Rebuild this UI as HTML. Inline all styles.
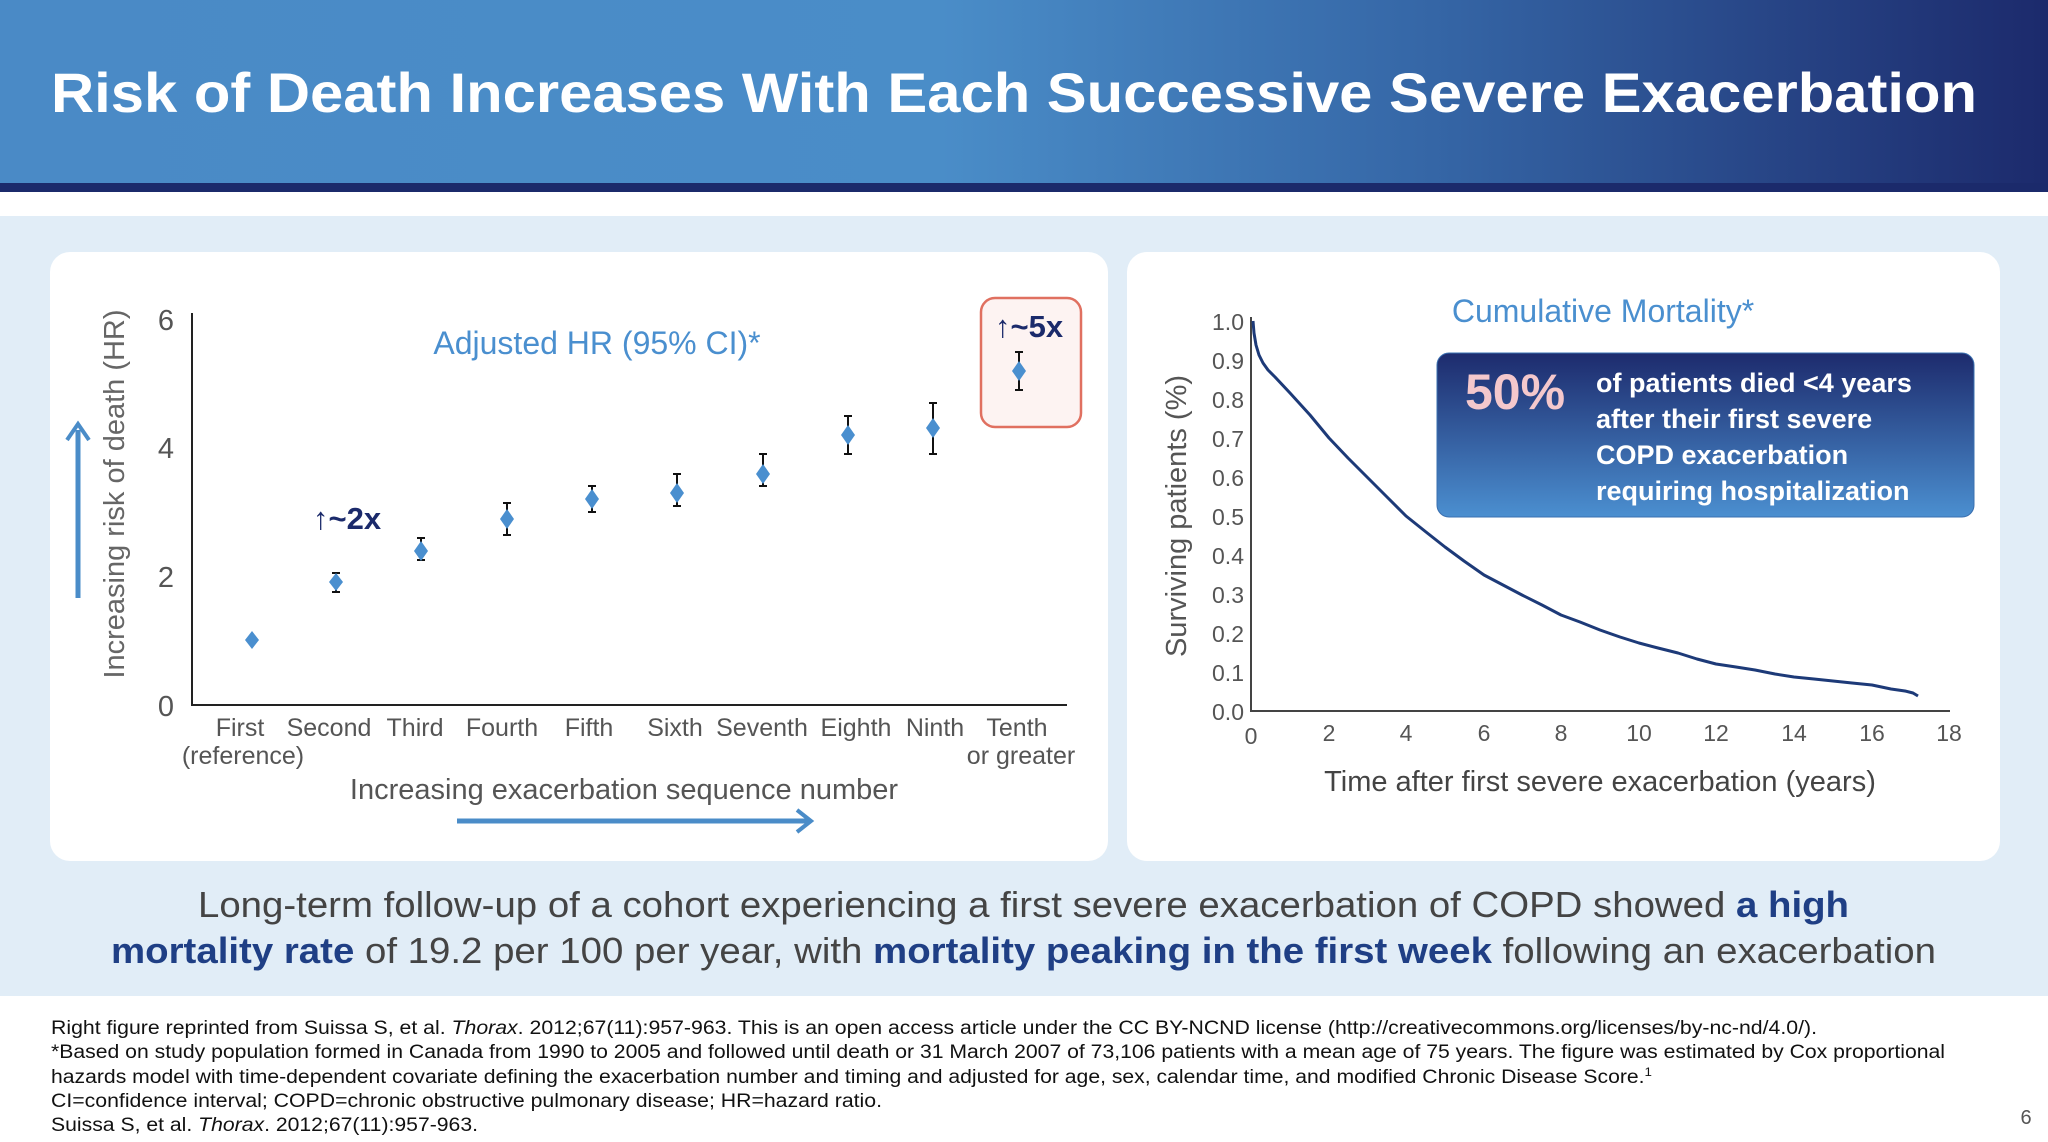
<!DOCTYPE html>
<html><head><meta charset="utf-8"><style>html,body{margin:0;padding:0;background:#fff}svg{display:block}text{font-family:"Liberation Sans",Arial,sans-serif}</style></head>
<body>
<svg width="2048" height="1142" viewBox="0 0 2048 1142" xmlns="http://www.w3.org/2000/svg">
<defs>
<linearGradient id="hd" x1="0" x2="1" y1="0" y2="0">
<stop offset="0" stop-color="#4a8ac6"/><stop offset="0.46" stop-color="#4a8dc8"/><stop offset="0.7" stop-color="#3566a6"/><stop offset="1" stop-color="#1c2a6c"/></linearGradient>
<linearGradient id="bx" x1="0" x2="0" y1="0" y2="1">
<stop offset="0" stop-color="#1d2b6d"/><stop offset="1" stop-color="#4b8fd0"/></linearGradient>
</defs>
<rect x="0" y="0" width="2048" height="1142" fill="#fff"/>
<rect x="0" y="0" width="2048" height="183" fill="url(#hd)"/>
<rect x="0" y="183" width="2048" height="9" fill="#1b2a6b"/>
<text x="51" y="112" font-size="56" font-weight="bold" fill="#fff" textLength="1926" lengthAdjust="spacingAndGlyphs">Risk of Death Increases With Each Successive Severe Exacerbation</text>
<rect x="0" y="216" width="2048" height="780" fill="#e1edf7"/>
<rect x="50" y="252" width="1058" height="609" rx="20" fill="#fff"/>
<rect x="1127" y="252" width="873" height="609" rx="20" fill="#fff"/>

<!-- left chart -->
<line x1="192" y1="313" x2="192" y2="706" stroke="#222" stroke-width="2"/>
<line x1="191" y1="705" x2="1067" y2="705" stroke="#222" stroke-width="2"/>
<g font-size="29" fill="#555" text-anchor="middle">
<text x="166" y="330">6</text><text x="166" y="458">4</text><text x="166" y="587">2</text><text x="166" y="716">0</text>
</g>
<text transform="translate(124,494) rotate(-90)" font-size="29" fill="#666" text-anchor="middle">Increasing risk of death (HR)</text>
<line x1="78" y1="598" x2="78" y2="430" stroke="#4a8cc8" stroke-width="5"/>
<polyline points="67,440 78,424 89,440" fill="none" stroke="#4a8cc8" stroke-width="4"/>
<text x="597" y="354" font-size="32" fill="#4a8fcf" text-anchor="middle">Adjusted HR (95% CI)*</text>
<rect x="981" y="298" width="100" height="129" rx="14" fill="#fdf3f2" stroke="#e07060" stroke-width="2.5"/>
<text x="995" y="337" font-size="31" font-weight="bold" fill="#1b2a6b">↑~5x</text>
<text x="313" y="529" font-size="31" font-weight="bold" fill="#1b2a6b">↑~2x</text>
<g stroke="#111" stroke-width="2">
<path d="M336,592 v-19 M332,592h8 M332,573h8"/>
<path d="M421,560 v-22 M417,560h8 M417,538h8"/>
<path d="M507,535 v-32 M503,535h8 M503,503h8"/>
<path d="M592,512 v-26 M588,512h8 M588,486h8"/>
<path d="M677,506 v-32 M673,506h8 M673,474h8"/>
<path d="M763,486 v-32 M759,486h8 M759,454h8"/>
<path d="M848,454 v-38 M844,454h8 M844,416h8"/>
<path d="M933,454 v-51 M929,454h8 M929,403h8"/>
<path d="M1019,390 v-38 M1015,390h8 M1015,352h8"/>
</g>
<g fill="#4a8fcf">
<path d="M252,631 l7,9 l-7,9 l-7,-9z"/>
<path d="M336,573 l7,9 l-7,9 l-7,-9z"/>
<path d="M421,541 l7,10 l-7,10 l-7,-10z"/>
<path d="M507,509 l7,10 l-7,10 l-7,-10z"/>
<path d="M592,489 l7,10 l-7,10 l-7,-10z"/>
<path d="M677,483 l7,10 l-7,10 l-7,-10z"/>
<path d="M763,464 l7,10 l-7,10 l-7,-10z"/>
<path d="M848,425 l7,10 l-7,10 l-7,-10z"/>
<path d="M933,418 l7,10 l-7,10 l-7,-10z"/>
<path d="M1019,361 l7,10 l-7,10 l-7,-10z"/>
</g>
<g font-size="25" fill="#555" text-anchor="middle">
<text x="240" y="736">First</text><text x="243" y="764">(reference)</text>
<text x="329" y="736">Second</text><text x="415" y="736">Third</text>
<text x="502" y="736">Fourth</text><text x="589" y="736">Fifth</text>
<text x="675" y="736">Sixth</text><text x="762" y="736">Seventh</text>
<text x="856" y="736">Eighth</text><text x="935" y="736">Ninth</text>
<text x="1017" y="736">Tenth</text><text x="1021" y="764">or greater</text>
</g>
<text x="624" y="799" font-size="29" fill="#555" text-anchor="middle">Increasing exacerbation sequence number</text>
<line x1="457" y1="821" x2="808" y2="821" stroke="#4a8cc8" stroke-width="5"/>
<polyline points="797,810 811,821 797,832" fill="none" stroke="#4a8cc8" stroke-width="4"/>

<!-- right chart -->
<line x1="1251" y1="317" x2="1251" y2="712" stroke="#444" stroke-width="2"/>
<line x1="1250" y1="711" x2="1950" y2="711" stroke="#444" stroke-width="2"/>
<g font-size="23" fill="#555" text-anchor="end">
<text x="1244" y="330">1.0</text><text x="1244" y="369">0.9</text><text x="1244" y="408">0.8</text><text x="1244" y="447">0.7</text><text x="1244" y="486">0.6</text><text x="1244" y="525">0.5</text><text x="1244" y="564">0.4</text><text x="1244" y="603">0.3</text><text x="1244" y="642">0.2</text><text x="1244" y="681">0.1</text><text x="1244" y="720">0.0</text>
</g>
<g font-size="23" fill="#555" text-anchor="middle">
<text x="1251" y="744">0</text><text x="1329" y="741">2</text><text x="1406" y="741">4</text><text x="1484" y="741">6</text><text x="1561" y="741">8</text><text x="1639" y="741">10</text><text x="1716" y="741">12</text><text x="1794" y="741">14</text><text x="1872" y="741">16</text><text x="1949" y="741">18</text>
</g>
<text transform="translate(1186,516) rotate(-90)" font-size="29" fill="#555" text-anchor="middle">Surviving patients (%)</text>
<text x="1600" y="791" font-size="29" fill="#444" text-anchor="middle">Time after first severe exacerbation (years)</text>
<text x="1603" y="322" font-size="32" fill="#4a8fcf" text-anchor="middle">Cumulative Mortality*</text>
<path fill="none" stroke="#1d3a78" stroke-width="3" stroke-linejoin="round" d="M1253,321 L1254,333 L1256,345 L1259,355 L1263,363 L1268,370 L1275,377 L1290,393 L1310,415 L1329,438 L1348,458 L1367,477 L1387,497 L1406,516 L1426,532 L1445,547 L1464,561 L1484,575 L1503,585 L1522,595 L1542,605 L1561,615 L1580,622 L1600,630 L1620,637 L1639,643 L1658,648 L1678,653 L1697,659 L1716,664 L1736,667 L1755,670 L1775,674 L1794,677 L1814,679 L1833,681 L1852,683 L1872,685 L1891,689 L1905,691 L1913,693 L1918,696"/>
<rect x="1437" y="353" width="537" height="164" rx="12" fill="url(#bx)" stroke="#3a70b0" stroke-width="1"/>
<text x="1465" y="409" font-size="50" font-weight="bold" fill="#f4c8cc">50%</text>
<g font-size="27" font-weight="bold" fill="#fff">
<text x="1596" y="392">of patients died &lt;4 years</text>
<text x="1596" y="428">after their first severe</text>
<text x="1596" y="464">COPD exacerbation</text>
<text x="1596" y="500">requiring hospitalization</text>
</g>

<!-- bottom text -->
<text x="198" y="917" font-size="36" fill="#444" textLength="1651" lengthAdjust="spacingAndGlyphs">Long-term follow-up of a cohort experiencing a first severe exacerbation of COPD showed <tspan font-weight="bold" fill="#1f3f85">a high</tspan></text>
<text x="111" y="963" font-size="36" fill="#444" textLength="1825" lengthAdjust="spacingAndGlyphs"><tspan font-weight="bold" fill="#1f3f85">mortality rate</tspan> of 19.2 per 100 per year, with <tspan font-weight="bold" fill="#1f3f85">mortality peaking in the first week</tspan> following an exacerbation</text>

<g font-size="19" fill="#111">
<text x="51" y="1034" textLength="1766" lengthAdjust="spacingAndGlyphs">Right figure reprinted from Suissa S, et al. <tspan font-style="italic">Thorax</tspan>. 2012;67(11):957-963. This is an open access article under the CC BY-NCND license (http://creativecommons.org/licenses/by-nc-nd/4.0/).</text>
<text x="51" y="1058" textLength="1894" lengthAdjust="spacingAndGlyphs">*Based on study population formed in Canada from 1990 to 2005 and followed until death or 31 March 2007 of 73,106 patients with a mean age of 75 years. The figure was estimated by Cox proportional</text>
<text x="51" y="1083" textLength="1601" lengthAdjust="spacingAndGlyphs">hazards model with time-dependent covariate defining the exacerbation number and timing and adjusted for age, sex, calendar time, and modified Chronic Disease Score.<tspan font-size="12" dy="-7">1</tspan></text>
<text x="51" y="1107" textLength="831" lengthAdjust="spacingAndGlyphs">CI=confidence interval; COPD=chronic obstructive pulmonary disease; HR=hazard ratio.</text>
<text x="51" y="1131" textLength="427" lengthAdjust="spacingAndGlyphs">Suissa S, et al. <tspan font-style="italic">Thorax</tspan>. 2012;67(11):957-963.</text>
</g>
<text x="2026" y="1124" font-size="20" fill="#555" text-anchor="middle">6</text>
</svg>
</body></html>
